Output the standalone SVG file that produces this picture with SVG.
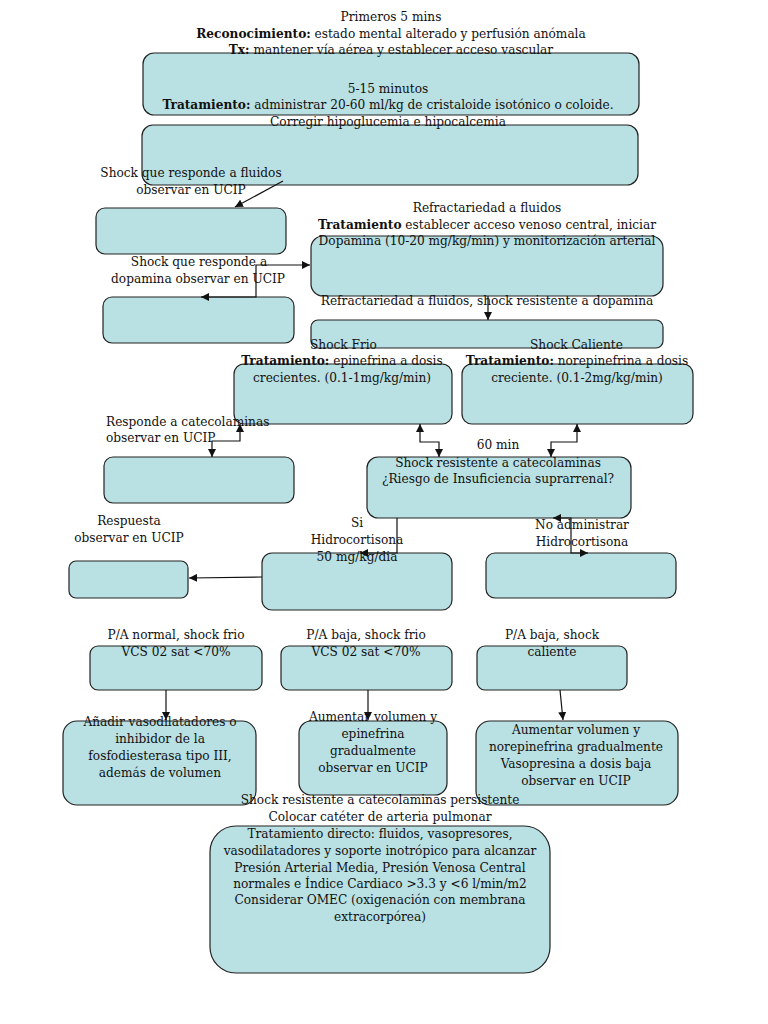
<svg xmlns="http://www.w3.org/2000/svg" width="768" height="1024" viewBox="0 0 768 1024">
<style>
  .box{fill:#b9e0e3;stroke:#222;stroke-width:1.2}
  text{font-family:"DejaVu Serif Condensed","DejaVu Serif","Liberation Serif",serif;font-stretch:condensed;font-size:13.5px;fill:#111}
  .c{text-anchor:middle}
  .b{font-weight:bold}
  .ln{fill:none;stroke:#111;stroke-width:1.2}
</style>
<defs>
  <marker id="ah" viewBox="0 0 10 10" refX="10" refY="5" markerWidth="8" markerHeight="8" markerUnits="userSpaceOnUse" orient="auto-start-reverse">
    <path d="M0,0 L10,5 L0,10 z" fill="#111"/>
  </marker>
</defs>
<rect width="768" height="1024" fill="#fff"/>

<g id="n1">
  <rect class="box" x="143" y="53" width="496" height="62" rx="11"/>
  <text class="c" x="391" y="21">Primeros 5 mins</text>
  <text class="c" x="391" y="38"><tspan class="b">Reconocimiento:</tspan> estado mental alterado y perfusión anómala</text>
  <text class="c" x="391" y="54"><tspan class="b">Tx:</tspan> mantener vía aérea y establecer acceso vascular</text>
</g>
<g id="n2">
  <rect class="box" x="142" y="125" width="496" height="60" rx="11"/>
  <text class="c" x="388" y="93">5-15 minutos</text>
  <text class="c" x="388" y="109"><tspan class="b">Tratamiento:</tspan> administrar 20-60 ml/kg de cristaloide isotónico o coloide.</text>
  <text class="c" x="388" y="126">Corregir hipoglucemia e hipocalcemia</text>
</g>
<g id="n3">
  <rect class="box" x="96" y="208" width="190" height="46" rx="9"/>
  <text class="c" x="191" y="177">Shock que responde a fluidos</text>
  <text class="c" x="191" y="194">observar en UCIP</text>
</g>
<g id="n4">
  <rect class="box" x="311" y="236" width="352" height="60" rx="12"/>
  <text class="c" x="487" y="212">Refractariedad a fluidos</text>
  <text class="c" x="487" y="229"><tspan class="b">Tratamiento</tspan> establecer acceso venoso central, iniciar</text>
  <text class="c" x="487" y="245">Dopamina (10-20 mg/kg/min) y monitorización arterial</text>
</g>
<g id="n5">
  <rect class="box" x="103" y="297" width="191" height="46" rx="9"/>
  <text class="c" x="199" y="266">Shock que responde a</text>
  <text class="c" x="198" y="283">dopamina observar en UCIP</text>
</g>
<g id="n6">
  <rect class="box" x="311" y="320" width="352" height="28" rx="7"/>
  <text class="c" x="487" y="305">Refractariedad a fluidos, shock resistente a dopamina</text>
  <text x="310" y="349">Shock Frio</text>
  <text x="530" y="349">Shock Caliente</text>
</g>
<g id="n7">
  <rect class="box" x="234" y="364" width="218" height="60" rx="10"/>
  <text class="c" x="342" y="365"><tspan class="b">Tratamiento:</tspan> epinefrina a dosis</text>
  <text class="c" x="342" y="382">crecientes.  (0.1-1mg/kg/min)</text>
</g>
<g id="n8">
  <rect class="box" x="462" y="364" width="231" height="60" rx="10"/>
  <text class="c" x="577" y="365"><tspan class="b">Tratamiento:</tspan> norepinefrina a dosis</text>
  <text class="c" x="577" y="382">creciente. (0.1-2mg/kg/min)</text>
</g>
<g id="n9">
  <rect class="box" x="104" y="457" width="190" height="46" rx="9"/>
  <text x="106" y="426">Responde a catecolaminas</text>
  <text x="106" y="442">observar en UCIP</text>
</g>
<g id="n10">
  <rect class="box" x="367" y="457" width="264" height="61" rx="11"/>
  <text class="c" x="498" y="449">60 min</text>
  <text class="c" x="498" y="467">Shock resistente a catecolaminas</text>
  <text class="c" x="498" y="483">¿Riesgo de Insuficiencia suprarrenal?</text>
</g>
<g id="n11">
  <rect class="box" x="262" y="553" width="190" height="57" rx="10"/>
  <text class="c" x="357" y="527">Si</text>
  <text class="c" x="357" y="544">Hidrocortisona</text>
  <text class="c" x="357" y="561">50 mg/kg/dia</text>
</g>
<g id="n12">
  <rect class="box" x="486" y="553" width="190" height="45" rx="9"/>
  <text class="c" x="582" y="529">No administrar</text>
  <text class="c" x="582" y="546">Hidrocortisona</text>
</g>
<g id="n13">
  <rect class="box" x="69" y="561" width="119" height="37" rx="7"/>
  <text class="c" x="129" y="525">Respuesta</text>
  <text class="c" x="129" y="542">observar en UCIP</text>
</g>
<g id="n14">
  <rect class="box" x="90" y="646" width="172" height="44" rx="8"/>
  <text class="c" x="176" y="639">P/A normal, shock frio</text>
  <text class="c" x="176" y="656">VCS 02 sat &lt;70%</text>
</g>
<g id="n15">
  <rect class="box" x="281" y="646" width="171" height="44" rx="8"/>
  <text class="c" x="366" y="639">P/A baja, shock frio</text>
  <text class="c" x="366" y="656">VCS 02 sat &lt;70%</text>
</g>
<g id="n16">
  <rect class="box" x="477" y="646" width="150" height="44" rx="8"/>
  <text class="c" x="552" y="639">P/A baja, shock</text>
  <text class="c" x="552" y="656">caliente</text>
</g>
<g id="n17">
  <rect class="box" x="63" y="721" width="193" height="84" rx="14"/>
  <text class="c" x="160" y="726">Añadir vasodilatadores o</text>
  <text class="c" x="160" y="743">inhibidor de la</text>
  <text class="c" x="160" y="760">fosfodiesterasa tipo III,</text>
  <text class="c" x="160" y="777">además de volumen</text>
</g>
<g id="n18">
  <rect class="box" x="299" y="721" width="148" height="74" rx="12"/>
  <text class="c" x="373" y="721">Aumentar volumen y</text>
  <text class="c" x="373" y="738">epinefrina</text>
  <text class="c" x="373" y="755">gradualmente</text>
  <text class="c" x="373" y="772">observar en UCIP</text>
</g>
<g id="n19">
  <rect class="box" x="476" y="721" width="202" height="84" rx="14"/>
  <text class="c" x="576" y="734">Aumentar volumen y</text>
  <text class="c" x="576" y="751">norepinefrina gradualmente</text>
  <text class="c" x="576" y="768">Vasopresina a dosis baja</text>
  <text class="c" x="576" y="785">observar en UCIP</text>
</g>
<g id="n20">
  <rect class="box" x="210" y="826" width="340" height="147" rx="26"/>
  <text class="c" x="380" y="804">Shock resistente a catecolaminas persistente</text>
  <text class="c" x="380" y="821">Colocar catéter de arteria pulmonar</text>
  <text class="c" x="380" y="838">Tratamiento directo: fluidos, vasopresores,</text>
  <text class="c" x="380" y="855">vasodilatadores y soporte inotrópico para alcanzar</text>
  <text class="c" x="380" y="872">Presión Arterial Media, Presión Venosa Central</text>
  <text class="c" x="380" y="888">normales e Índice Cardiaco &gt;3.3 y &lt;6 l/min/m2</text>
  <text class="c" x="380" y="904">Considerar OMEC (oxigenación con membrana</text>
  <text class="c" x="380" y="921">extracorpórea)</text>
</g>

<g id="connectors" class="ln">
  <line x1="283" y1="181" x2="235" y2="207" marker-end="url(#ah)"/>
  <path d="M310,265 H256 V297 H201" marker-start="url(#ah)" marker-end="url(#ah)"/>
  <line x1="488" y1="296" x2="488" y2="320" marker-end="url(#ah)"/>
  <path d="M240,424 V441 H212 V457" marker-start="url(#ah)" marker-end="url(#ah)"/>
  <path d="M420,424 V442 H439 V457" marker-start="url(#ah)" marker-end="url(#ah)"/>
  <path d="M577,424 V442 H551 V457" marker-start="url(#ah)" marker-end="url(#ah)"/>
  <path d="M397,518 V553 H360" marker-end="url(#ah)"/>
  <path d="M553,518 H571 V553 H588" marker-start="url(#ah)" marker-end="url(#ah)"/>
  <line x1="262" y1="577" x2="189" y2="578" marker-end="url(#ah)"/>
  <line x1="166" y1="690" x2="166" y2="720" marker-end="url(#ah)"/>
  <line x1="368" y1="690" x2="368" y2="720" marker-end="url(#ah)"/>
  <line x1="560" y1="690" x2="563" y2="720" marker-end="url(#ah)"/>
</g>
</svg>
